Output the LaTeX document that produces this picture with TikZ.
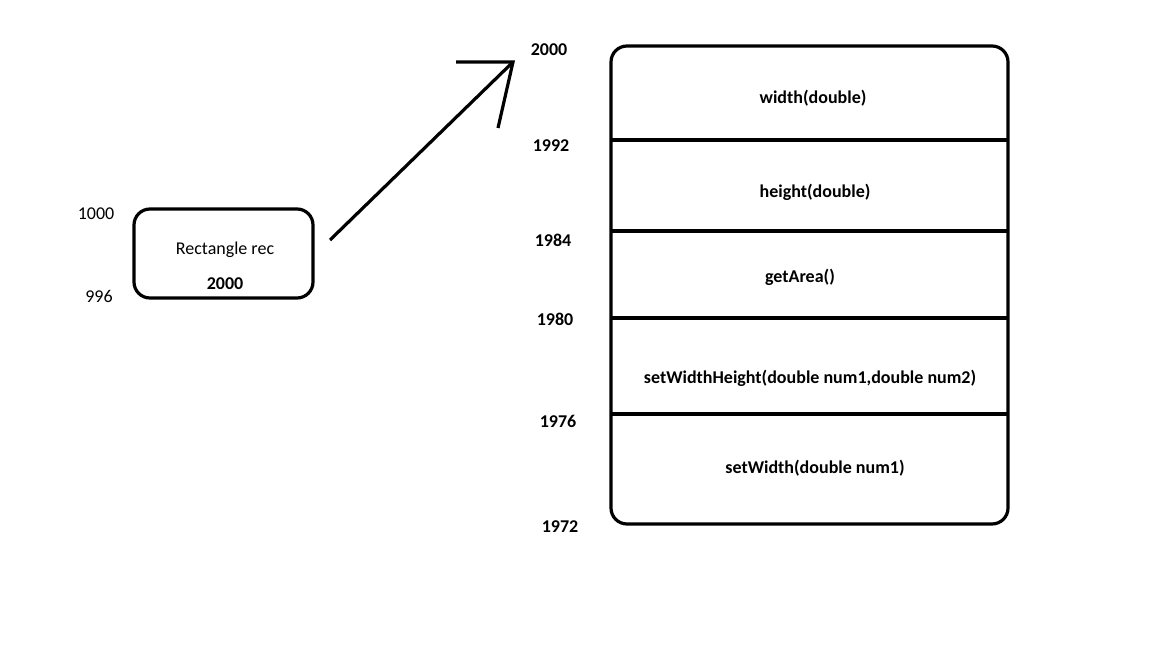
\documentclass[tikz,border=0pt]{standalone}
\usepackage{fontspec}
\setmainfont{Carlito}
\begin{document}
\begin{tikzpicture}[x=0.75pt,y=-0.75pt,
  box/.style={draw,line width=2.4pt,rounded corners=12pt},
  lbl/.style={font=\fontsize{13.5}{15}\selectfont},
  blbl/.style={font=\fontsize{13.5}{15}\selectfont\bfseries},
  ln/.style={line width=2.4pt}]
\useasboundingbox (0,0) rectangle (1166,648);
\draw[box] (134,209) rectangle (313,298);
\node[lbl] (rr) at (225,250) {Rectangle rec};
\node[blbl] (ra) at (225,284) {2000};
\node[lbl] (l1000) at (96,214) {1000};
\node[lbl] (l996) at (99,296) {996};
\coordinate (s) at (330,240);
\coordinate (t) at (513,62);
\coordinate (h1) at (456,62);
\coordinate (h2) at (498,128);
\draw[ln] (s) -- (t);
\draw[ln] (h1) -- (t) -- (h2);
\draw[box] (611,46) rectangle (1008,524);
\foreach \y in {140,231,318,414} \draw[ln] (611,\y) -- (1008,\y);
\node[blbl] (m1) at (813,98) {width(double)};
\node[blbl] (m2) at (815,192) {height(double)};
\node[blbl] (m3) at (800,277) {getArea()};
\node[blbl] (m4) at (810,378) {setWidthHeight(double num1,double num2)};
\node[blbl] (m5) at (815,468) {setWidth(double num1)};
\node[blbl] (a1) at (549,50) {2000};
\node[blbl] (a2) at (551,146) {1992};
\node[blbl] (a3) at (553,240) {1984};
\node[blbl] (a4) at (555,319) {1980};
\node[blbl] (a5) at (558,421) {1976};
\node[blbl] (a6) at (560,527) {1972};
\end{tikzpicture}
\end{document}
